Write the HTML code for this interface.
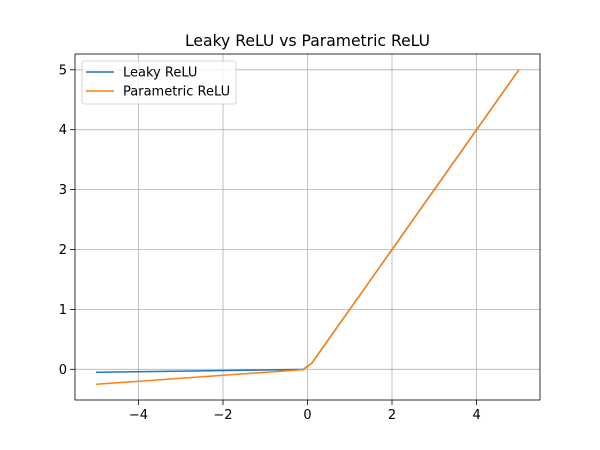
<!DOCTYPE html>
<html><head><meta charset="utf-8"><style>body{margin:0;background:#fff}svg{display:block}text{font-family:"DejaVu Sans","Liberation Sans",sans-serif;fill:#000}</style></head>
<body>
<svg width="600" height="450" xmlns="http://www.w3.org/2000/svg">
<rect width="600" height="450" fill="#fff"/>
<g stroke="#b0b0b0" stroke-width="0.8">
<line x1="138.4" y1="54" x2="138.4" y2="400"/>
<line x1="223" y1="54" x2="223" y2="400"/>
<line x1="307.5" y1="54" x2="307.5" y2="400"/>
<line x1="392" y1="54" x2="392" y2="400"/>
<line x1="476.6" y1="54" x2="476.6" y2="400"/>
<line x1="75" y1="369.3" x2="540" y2="369.3"/>
<line x1="75" y1="309.4" x2="540" y2="309.4"/>
<line x1="75" y1="249.5" x2="540" y2="249.5"/>
<line x1="75" y1="189.6" x2="540" y2="189.6"/>
<line x1="75" y1="129.7" x2="540" y2="129.7"/>
<line x1="75" y1="69.8" x2="540" y2="69.8"/>
</g>
<polyline fill="none" stroke="#1f77b4" stroke-width="1.5" points="96.1,372.3 303.2,369.4 311.8,363.2 518.9,69.8"/>
<polyline fill="none" stroke="#ff7f0e" stroke-width="1.5" points="96.1,384.3 303.2,369.6 311.8,363.2 518.9,69.8"/>
<rect x="75" y="54" width="465" height="346" fill="none" stroke="#000" stroke-width="0.8"/>
<g stroke="#000" stroke-width="0.8">
<line x1="138.4" y1="400" x2="138.4" y2="405"/><line x1="223" y1="400" x2="223" y2="405"/><line x1="307.5" y1="400" x2="307.5" y2="405"/><line x1="392" y1="400" x2="392" y2="405"/><line x1="476.6" y1="400" x2="476.6" y2="405"/>
<line x1="70" y1="369.3" x2="75" y2="369.3"/><line x1="70" y1="309.4" x2="75" y2="309.4"/><line x1="70" y1="249.5" x2="75" y2="249.5"/><line x1="70" y1="189.6" x2="75" y2="189.6"/><line x1="70" y1="129.7" x2="75" y2="129.7"/><line x1="70" y1="69.8" x2="75" y2="69.8"/>
</g>
<g font-size="13" text-anchor="middle">
<text x="138.4" y="419">−4</text><text x="223" y="419">−2</text><text x="307.5" y="419">0</text><text x="392" y="419">2</text><text x="476.6" y="419">4</text>
</g>
<g font-size="13" text-anchor="end">
<text x="67" y="374">0</text><text x="67" y="314">1</text><text x="67" y="254">2</text><text x="67" y="194">3</text><text x="67" y="134">4</text><text x="67" y="74.5">5</text>
</g>
<text x="307.5" y="46" font-size="15.6" text-anchor="middle">Leaky ReLU vs Parametric ReLU</text>
<rect x="82" y="61" width="154" height="43" rx="2" fill="#fff" fill-opacity="0.8" stroke="#ccc" stroke-width="0.8"/>
<line x1="86" y1="72" x2="114" y2="72" stroke="#1f77b4" stroke-width="1.5"/>
<line x1="86" y1="91" x2="114" y2="91" stroke="#ff7f0e" stroke-width="1.5"/>
<text x="123" y="76.5" font-size="13">Leaky ReLU</text>
<text x="123" y="95.5" font-size="13">Parametric ReLU</text>
</svg>
</body></html>
